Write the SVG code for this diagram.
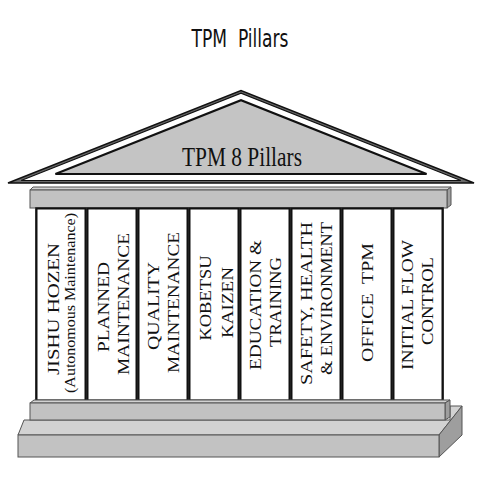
<svg xmlns="http://www.w3.org/2000/svg" width="480" height="480" viewBox="0 0 480 480">
<style>
.pt{font-family:"Liberation Serif","Times New Roman",serif;font-size:17px;fill:#111;text-anchor:middle;white-space:pre}
.pil{fill:#fff;stroke:#111;stroke-width:2}
.front{fill:#c2c2c2;stroke:#555;stroke-width:1}
.top{fill:#d2d2d2;stroke:#555;stroke-width:1}
.side{fill:#9e9e9e;stroke:#555;stroke-width:1}
</style>
<rect width="480" height="480" fill="#fff"/>
<text x="240" y="47" xml:space="preserve" style="white-space:pre" font-family="DejaVu Sans, sans-serif" font-size="24" fill="#111" text-anchor="middle" textLength="97" lengthAdjust="spacingAndGlyphs">TPM  Pillars</text>

<g id="roof">
<polygon points="8,183 241,90.5 474,183" fill="#6a6a6a" stroke="#111" stroke-width="1.5"/>
<polygon points="21.2,180.5 241,93.2 460.8,180.5" fill="#fff" stroke="#111" stroke-width="1.2"/>
<polygon points="55.4,174 241,100.2 426.6,174" fill="#c4c4c4" stroke="#111" stroke-width="2"/>
<text x="242" y="166" font-family="Liberation Serif, Times New Roman, serif" font-size="28" fill="#111" text-anchor="middle" textLength="120" lengthAdjust="spacingAndGlyphs">TPM 8 Pillars</text>
</g>

<g id="beam">
<polygon class="top" points="30,190 33,187 451,187 447,190"/>
<polygon class="side" points="447,190 451,187 451,205 447,208"/>
<rect class="front" x="30" y="190" width="417" height="18"/>
</g>

<g id="colonnade">
<rect x="35" y="207" width="409" height="194" fill="#555"/>
</g>

<g id="pillar1"><rect class="pil" x="36.5" y="208.5" width="49" height="192"/>
<text class="pt" transform="translate(59,309) rotate(-90)" textLength="132" lengthAdjust="spacingAndGlyphs">JISHU HOZEN</text>
<text class="pt" transform="translate(75,303) rotate(-90)" style="font-size:14px" textLength="180" lengthAdjust="spacingAndGlyphs">(Autonomous Maintenance)</text></g>
<g id="pillar2"><rect class="pil" x="87.5" y="208.5" width="49" height="192"/>
<text class="pt" transform="translate(109,307) rotate(-90)" textLength="90" lengthAdjust="spacingAndGlyphs">PLANNED</text>
<text class="pt" transform="translate(129,304) rotate(-90)" textLength="142" lengthAdjust="spacingAndGlyphs">MAINTENANCE</text></g>
<g id="pillar3"><rect class="pil" x="138.5" y="208.5" width="49" height="192"/>
<text class="pt" transform="translate(159,306) rotate(-90)" textLength="88" lengthAdjust="spacingAndGlyphs">QUALITY</text>
<text class="pt" transform="translate(179,302.5) rotate(-90)" textLength="141" lengthAdjust="spacingAndGlyphs">MAINTENANCE</text></g>
<g id="pillar4"><rect class="pil" x="189.5" y="208.5" width="49" height="192"/>
<text class="pt" transform="translate(211,298) rotate(-90)" textLength="85" lengthAdjust="spacingAndGlyphs">KOBETSU</text>
<text class="pt" transform="translate(233,302.5) rotate(-90)" textLength="71" lengthAdjust="spacingAndGlyphs">KAIZEN</text></g>
<g id="pillar5"><rect class="pil" x="240.5" y="208.5" width="49" height="192"/>
<text class="pt" transform="translate(261,305) rotate(-90)" textLength="130" lengthAdjust="spacingAndGlyphs">EDUCATION &amp;</text>
<text class="pt" transform="translate(281,302) rotate(-90)" textLength="90" lengthAdjust="spacingAndGlyphs">TRAINING</text></g>
<g id="pillar6"><rect class="pil" x="291.5" y="208.5" width="49" height="192"/>
<text class="pt" transform="translate(312,303.5) rotate(-90)" textLength="163" lengthAdjust="spacingAndGlyphs">SAFETY, HEALTH</text>
<text class="pt" transform="translate(332,298.5) rotate(-90)" textLength="153" lengthAdjust="spacingAndGlyphs">&amp; ENVIRONMENT</text></g>
<g id="pillar7"><rect class="pil" x="342.5" y="208.5" width="49" height="192"/>
<text class="pt" xml:space="preserve" transform="translate(373,302.5) rotate(-90)" textLength="119" lengthAdjust="spacingAndGlyphs">OFFICE  TPM</text></g>
<g id="pillar8"><rect class="pil" x="393.5" y="208.5" width="49" height="192"/>
<text class="pt" transform="translate(413,305) rotate(-90)" textLength="130" lengthAdjust="spacingAndGlyphs">INITIAL FLOW</text>
<text class="pt" transform="translate(433,301) rotate(-90)" textLength="88" lengthAdjust="spacingAndGlyphs">CONTROL</text></g>

<g id="base">
<polygon class="top" points="18,435 439,435 462,406 450,406 450,420 24,420"/>
<polygon class="side" points="439,435 462,406 462,435 439,457"/>
<rect class="front" x="18" y="435" width="421" height="22"/>
<polygon class="top" points="30,403 34,400 450,400 445,403"/>
<polygon class="side" points="445,403 450,400 450,417 445,420"/>
<rect class="front" x="30" y="403" width="415" height="17"/>
</g>
</svg>
